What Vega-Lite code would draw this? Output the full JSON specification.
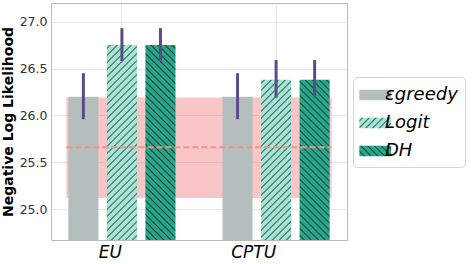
{
  "$schema": "https://vega.github.io/schema/vega-lite/v6.json",
  "width": 296,
  "height": 237,
  "autosize": {"type": "none"},
  "padding": {"left": 51, "top": 3, "right": 127, "bottom": 24},
  "background": "#ffffff",
  "params": [
    {"name": "hatchLogit", "value": [
      {"offset":0.0083,"color":"#aae4d5"},{"offset":0.0152,"color":"#2f6e62"},{"offset":0.0221,"color":"#aae4d5"},
      {"offset":0.0386,"color":"#aae4d5"},{"offset":0.0455,"color":"#2f6e62"},{"offset":0.0524,"color":"#aae4d5"},
      {"offset":0.0689,"color":"#aae4d5"},{"offset":0.0758,"color":"#2f6e62"},{"offset":0.0827,"color":"#aae4d5"},
      {"offset":0.0992,"color":"#aae4d5"},{"offset":0.1061,"color":"#2f6e62"},{"offset":0.1130,"color":"#aae4d5"},
      {"offset":0.1295,"color":"#aae4d5"},{"offset":0.1364,"color":"#2f6e62"},{"offset":0.1433,"color":"#aae4d5"},
      {"offset":0.1598,"color":"#aae4d5"},{"offset":0.1667,"color":"#2f6e62"},{"offset":0.1736,"color":"#aae4d5"},
      {"offset":0.1901,"color":"#aae4d5"},{"offset":0.1970,"color":"#2f6e62"},{"offset":0.2039,"color":"#aae4d5"},
      {"offset":0.2204,"color":"#aae4d5"},{"offset":0.2273,"color":"#2f6e62"},{"offset":0.2342,"color":"#aae4d5"},
      {"offset":0.2507,"color":"#aae4d5"},{"offset":0.2576,"color":"#2f6e62"},{"offset":0.2645,"color":"#aae4d5"},
      {"offset":0.2810,"color":"#aae4d5"},{"offset":0.2879,"color":"#2f6e62"},{"offset":0.2948,"color":"#aae4d5"},
      {"offset":0.3113,"color":"#aae4d5"},{"offset":0.3182,"color":"#2f6e62"},{"offset":0.3251,"color":"#aae4d5"},
      {"offset":0.3416,"color":"#aae4d5"},{"offset":0.3485,"color":"#2f6e62"},{"offset":0.3554,"color":"#aae4d5"},
      {"offset":0.3719,"color":"#aae4d5"},{"offset":0.3788,"color":"#2f6e62"},{"offset":0.3857,"color":"#aae4d5"},
      {"offset":0.4022,"color":"#aae4d5"},{"offset":0.4091,"color":"#2f6e62"},{"offset":0.4160,"color":"#aae4d5"},
      {"offset":0.4325,"color":"#aae4d5"},{"offset":0.4394,"color":"#2f6e62"},{"offset":0.4463,"color":"#aae4d5"},
      {"offset":0.4628,"color":"#aae4d5"},{"offset":0.4697,"color":"#2f6e62"},{"offset":0.4766,"color":"#aae4d5"},
      {"offset":0.4931,"color":"#aae4d5"},{"offset":0.5000,"color":"#2f6e62"},{"offset":0.5069,"color":"#aae4d5"},
      {"offset":0.5234,"color":"#aae4d5"},{"offset":0.5303,"color":"#2f6e62"},{"offset":0.5372,"color":"#aae4d5"},
      {"offset":0.5537,"color":"#aae4d5"},{"offset":0.5606,"color":"#2f6e62"},{"offset":0.5675,"color":"#aae4d5"},
      {"offset":0.5840,"color":"#aae4d5"},{"offset":0.5909,"color":"#2f6e62"},{"offset":0.5978,"color":"#aae4d5"},
      {"offset":0.6143,"color":"#aae4d5"},{"offset":0.6212,"color":"#2f6e62"},{"offset":0.6281,"color":"#aae4d5"},
      {"offset":0.6446,"color":"#aae4d5"},{"offset":0.6515,"color":"#2f6e62"},{"offset":0.6584,"color":"#aae4d5"},
      {"offset":0.6749,"color":"#aae4d5"},{"offset":0.6818,"color":"#2f6e62"},{"offset":0.6887,"color":"#aae4d5"},
      {"offset":0.7052,"color":"#aae4d5"},{"offset":0.7121,"color":"#2f6e62"},{"offset":0.7190,"color":"#aae4d5"},
      {"offset":0.7355,"color":"#aae4d5"},{"offset":0.7424,"color":"#2f6e62"},{"offset":0.7493,"color":"#aae4d5"},
      {"offset":0.7658,"color":"#aae4d5"},{"offset":0.7727,"color":"#2f6e62"},{"offset":0.7796,"color":"#aae4d5"},
      {"offset":0.7961,"color":"#aae4d5"},{"offset":0.8030,"color":"#2f6e62"},{"offset":0.8099,"color":"#aae4d5"},
      {"offset":0.8264,"color":"#aae4d5"},{"offset":0.8333,"color":"#2f6e62"},{"offset":0.8402,"color":"#aae4d5"},
      {"offset":0.8567,"color":"#aae4d5"},{"offset":0.8636,"color":"#2f6e62"},{"offset":0.8705,"color":"#aae4d5"},
      {"offset":0.8870,"color":"#aae4d5"},{"offset":0.8939,"color":"#2f6e62"},{"offset":0.9008,"color":"#aae4d5"},
      {"offset":0.9173,"color":"#aae4d5"},{"offset":0.9242,"color":"#2f6e62"},{"offset":0.9311,"color":"#aae4d5"},
      {"offset":0.9476,"color":"#aae4d5"},{"offset":0.9545,"color":"#2f6e62"},{"offset":0.9614,"color":"#aae4d5"},
      {"offset":0.9779,"color":"#aae4d5"},{"offset":0.9848,"color":"#2f6e62"},{"offset":0.9917,"color":"#aae4d5"}
    ]},
    {"name": "hatchDH", "value": [
      {"offset":0.0083,"color":"#2ca58a"},{"offset":0.0152,"color":"#0f4f40"},{"offset":0.0221,"color":"#2ca58a"},
      {"offset":0.0386,"color":"#2ca58a"},{"offset":0.0455,"color":"#0f4f40"},{"offset":0.0524,"color":"#2ca58a"},
      {"offset":0.0689,"color":"#2ca58a"},{"offset":0.0758,"color":"#0f4f40"},{"offset":0.0827,"color":"#2ca58a"},
      {"offset":0.0992,"color":"#2ca58a"},{"offset":0.1061,"color":"#0f4f40"},{"offset":0.1130,"color":"#2ca58a"},
      {"offset":0.1295,"color":"#2ca58a"},{"offset":0.1364,"color":"#0f4f40"},{"offset":0.1433,"color":"#2ca58a"},
      {"offset":0.1598,"color":"#2ca58a"},{"offset":0.1667,"color":"#0f4f40"},{"offset":0.1736,"color":"#2ca58a"},
      {"offset":0.1901,"color":"#2ca58a"},{"offset":0.1970,"color":"#0f4f40"},{"offset":0.2039,"color":"#2ca58a"},
      {"offset":0.2204,"color":"#2ca58a"},{"offset":0.2273,"color":"#0f4f40"},{"offset":0.2342,"color":"#2ca58a"},
      {"offset":0.2507,"color":"#2ca58a"},{"offset":0.2576,"color":"#0f4f40"},{"offset":0.2645,"color":"#2ca58a"},
      {"offset":0.2810,"color":"#2ca58a"},{"offset":0.2879,"color":"#0f4f40"},{"offset":0.2948,"color":"#2ca58a"},
      {"offset":0.3113,"color":"#2ca58a"},{"offset":0.3182,"color":"#0f4f40"},{"offset":0.3251,"color":"#2ca58a"},
      {"offset":0.3416,"color":"#2ca58a"},{"offset":0.3485,"color":"#0f4f40"},{"offset":0.3554,"color":"#2ca58a"},
      {"offset":0.3719,"color":"#2ca58a"},{"offset":0.3788,"color":"#0f4f40"},{"offset":0.3857,"color":"#2ca58a"},
      {"offset":0.4022,"color":"#2ca58a"},{"offset":0.4091,"color":"#0f4f40"},{"offset":0.4160,"color":"#2ca58a"},
      {"offset":0.4325,"color":"#2ca58a"},{"offset":0.4394,"color":"#0f4f40"},{"offset":0.4463,"color":"#2ca58a"},
      {"offset":0.4628,"color":"#2ca58a"},{"offset":0.4697,"color":"#0f4f40"},{"offset":0.4766,"color":"#2ca58a"},
      {"offset":0.4931,"color":"#2ca58a"},{"offset":0.5000,"color":"#0f4f40"},{"offset":0.5069,"color":"#2ca58a"},
      {"offset":0.5234,"color":"#2ca58a"},{"offset":0.5303,"color":"#0f4f40"},{"offset":0.5372,"color":"#2ca58a"},
      {"offset":0.5537,"color":"#2ca58a"},{"offset":0.5606,"color":"#0f4f40"},{"offset":0.5675,"color":"#2ca58a"},
      {"offset":0.5840,"color":"#2ca58a"},{"offset":0.5909,"color":"#0f4f40"},{"offset":0.5978,"color":"#2ca58a"},
      {"offset":0.6143,"color":"#2ca58a"},{"offset":0.6212,"color":"#0f4f40"},{"offset":0.6281,"color":"#2ca58a"},
      {"offset":0.6446,"color":"#2ca58a"},{"offset":0.6515,"color":"#0f4f40"},{"offset":0.6584,"color":"#2ca58a"},
      {"offset":0.6749,"color":"#2ca58a"},{"offset":0.6818,"color":"#0f4f40"},{"offset":0.6887,"color":"#2ca58a"},
      {"offset":0.7052,"color":"#2ca58a"},{"offset":0.7121,"color":"#0f4f40"},{"offset":0.7190,"color":"#2ca58a"},
      {"offset":0.7355,"color":"#2ca58a"},{"offset":0.7424,"color":"#0f4f40"},{"offset":0.7493,"color":"#2ca58a"},
      {"offset":0.7658,"color":"#2ca58a"},{"offset":0.7727,"color":"#0f4f40"},{"offset":0.7796,"color":"#2ca58a"},
      {"offset":0.7961,"color":"#2ca58a"},{"offset":0.8030,"color":"#0f4f40"},{"offset":0.8099,"color":"#2ca58a"},
      {"offset":0.8264,"color":"#2ca58a"},{"offset":0.8333,"color":"#0f4f40"},{"offset":0.8402,"color":"#2ca58a"},
      {"offset":0.8567,"color":"#2ca58a"},{"offset":0.8636,"color":"#0f4f40"},{"offset":0.8705,"color":"#2ca58a"},
      {"offset":0.8870,"color":"#2ca58a"},{"offset":0.8939,"color":"#0f4f40"},{"offset":0.9008,"color":"#2ca58a"},
      {"offset":0.9173,"color":"#2ca58a"},{"offset":0.9242,"color":"#0f4f40"},{"offset":0.9311,"color":"#2ca58a"},
      {"offset":0.9476,"color":"#2ca58a"},{"offset":0.9545,"color":"#0f4f40"},{"offset":0.9614,"color":"#2ca58a"},
      {"offset":0.9779,"color":"#2ca58a"},{"offset":0.9848,"color":"#0f4f40"},{"offset":0.9917,"color":"#2ca58a"}
    ]}
  ],
  "datasets": {
    "results": [
      {"group": "EU", "method": "εgreedy", "value": 26.2, "lo": 25.96, "hi": 26.45},
      {"group": "EU", "method": "Logit", "value": 26.75, "lo": 26.58, "hi": 26.93},
      {"group": "EU", "method": "DH", "value": 26.75, "lo": 26.58, "hi": 26.93},
      {"group": "CPTU", "method": "εgreedy", "value": 26.2, "lo": 25.96, "hi": 26.45},
      {"group": "CPTU", "method": "Logit", "value": 26.38, "lo": 26.19, "hi": 26.59},
      {"group": "CPTU", "method": "DH", "value": 26.38, "lo": 26.19, "hi": 26.59}
    ],
    "baseline": [
      {"mean": 25.66, "lo": 25.12, "hi": 26.19}
    ]
  },
  "config": {
    "view": {"stroke": "#b8b8b8", "strokeWidth": 1},
    "font": "DejaVu Sans"
  },
  "layer": [
    {
      "data": {"name": "baseline"},
      "mark": {"type": "rect", "color": "#f08080", "opacity": 0.45},
      "encoding": {
        "x": {"datum": "EU", "bandPosition": 0},
        "x2": {"datum": "CPTU", "bandPosition": 1},
        "y": {"field": "lo", "type": "quantitative"},
        "y2": {"field": "hi"}
      }
    },
    {
      "data": {"name": "results"},
      "mark": {"type": "bar", "opacity": 1},
      "encoding": {
        "x": {
          "field": "group", "type": "nominal", "sort": ["EU", "CPTU"],
          "scale": {"paddingInner": 0.28, "paddingOuter": 0.1},
          "axis": {
            "title": null, "labelAngle": 0, "ticks": false, "domain": false, "zindex": 0,
            "labelFont": "DejaVu Sans", "labelFontStyle": "italic", "labelFontSize": 17,
            "labelColor": "#000000", "labelPadding": 12,
            "grid": true, "gridColor": "#e6e6e6", "gridWidth": 1
          }
        },
        "xOffset": {
          "field": "method", "type": "nominal", "sort": ["εgreedy", "Logit", "DH"],
          "scale": {"paddingInner": 0.22, "paddingOuter": 0.05}
        },
        "y": {
          "field": "value", "type": "quantitative",
          "scale": {"domain": [24.673, 27.198], "zero": false, "nice": false},
          "axis": {
            "title": "Negative Log Likelihood", "titleFont": "DejaVu Sans", "titleFontWeight": "bold",
            "titleFontSize": 14, "titleColor": "#000000", "titlePadding": 4, "zindex": 0,
            "values": [25, 25.5, 26, 26.5, 27], "format": ".1f",
            "labelFont": "DejaVu Sans", "labelFontSize": 12.5, "labelColor": "#333333", "labelPadding": 4,
            "ticks": false, "domain": false, "grid": true, "gridColor": "#e6e6e6", "gridWidth": 1
          }
        },
        "y2": {"datum": 24.673},
        "fill": {
          "field": "method", "type": "nominal", "sort": ["εgreedy", "Logit", "DH"],
          "scale": {
            "domain": ["εgreedy", "Logit", "DH"],
            "range": [
              "#b4bebd",
              {"expr": "{gradient: 'linear', x1: 0, y1: 0, x2: 6.3, y2: 2.1, stops: hatchLogit}"},
              {"expr": "{gradient: 'linear', x1: 1, y1: 0, x2: -5.3, y2: 2.1, stops: hatchDH}"}
            ]
          },
          "condition": {
            "test": "datum.method === 'Logit' || datum.method === 'DH'",
            "value": {"expr": "{gradient: 'linear', x1: datum.method === 'DH' ? 1 : 0, y1: 0, x2: (datum.method === 'DH' ? 1 : 0) + (datum.method === 'DH' ? -1 : 1) * 231 * bandwidth('xOffset') / (pow(bandwidth('xOffset'), 2) + pow(height - scale('y', datum.value), 2)), y2: 231 * (height - scale('y', datum.value)) / (pow(bandwidth('xOffset'), 2) + pow(height - scale('y', datum.value), 2)), stops: datum.method === 'DH' ? hatchDH : hatchLogit}"}
          },
          "legend": {
            "title": null, "orient": "none", "legendX": 302, "legendY": 74,
            "symbolType": "M-1.1,-0.5h3v1h-3z", "symbolSize": 450, "symbolStrokeWidth": 0, "symbolOpacity": 1,
            "labelFont": "DejaVu Sans", "labelFontStyle": "italic", "labelFontSize": 18, "labelColor": "#000000",
            "labelOffset": 3, "rowPadding": 8, "padding": 7,
            "strokeColor": "#d4d4d4", "cornerRadius": 4, "fillColor": "#ffffff"
          }
        }
      }
    },
    {
      "data": {"name": "baseline"},
      "mark": {"type": "rule", "color": "#f0938a", "strokeWidth": 2, "strokeDash": [6, 3]},
      "encoding": {
        "x": {"datum": "EU", "bandPosition": 0},
        "x2": {"datum": "CPTU", "bandPosition": 1},
        "y": {"field": "mean", "type": "quantitative"}
      }
    },
    {
      "data": {"name": "results"},
      "mark": {"type": "rule", "color": "#5c4a8c", "strokeWidth": 3},
      "encoding": {
        "x": {"field": "group", "type": "nominal", "sort": ["EU", "CPTU"]},
        "xOffset": {"field": "method", "type": "nominal", "sort": ["εgreedy", "Logit", "DH"]},
        "y": {"field": "lo", "type": "quantitative"},
        "y2": {"field": "hi"}
      }
    }
  ]
}
